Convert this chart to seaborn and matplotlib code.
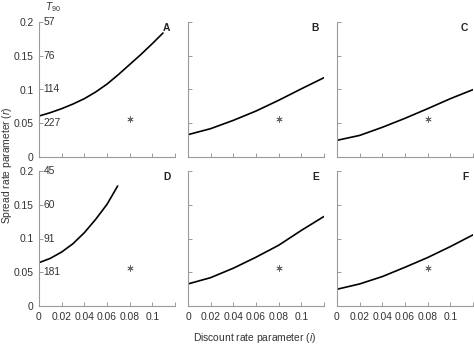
import matplotlib
matplotlib.use("Agg")
import matplotlib.pyplot as plt
import seaborn as sns
import pandas as pd

# ---- data ----
panels = ["A", "B", "C", "D", "E", "F"]

x_A = [0, 0.01, 0.02, 0.03, 0.04, 0.05, 0.06, 0.07, 0.08, 0.09, 0.10, 0.1094]
r_A = [0.0607, 0.0657, 0.0716, 0.0785, 0.0864, 0.0963, 0.108, 0.122, 0.137, 0.152, 0.168, 0.1837]

x_B = [0, 0.02, 0.04, 0.06, 0.08, 0.10, 0.12]
r_B = [0.0331, 0.042, 0.0543, 0.0681, 0.084, 0.101, 0.1175]

x_C = [0, 0.02, 0.04, 0.06, 0.08, 0.10, 0.12]
r_C = [0.0247, 0.032, 0.044, 0.0573, 0.0716, 0.0864, 0.0998]

x_D = [0, 0.01, 0.02, 0.03, 0.04, 0.05, 0.06, 0.0694]
r_D = [0.0642, 0.0706, 0.080, 0.0923, 0.1086, 0.1284, 0.1506, 0.1778]

x_E = [0, 0.02, 0.04, 0.06, 0.08, 0.10, 0.12]
r_E = [0.0327, 0.042, 0.056, 0.0723, 0.090, 0.112, 0.1327]

x_F = [0, 0.02, 0.04, 0.06, 0.08, 0.10, 0.12]
r_F = [0.0248, 0.0327, 0.0436, 0.0574, 0.0718, 0.088, 0.1054]

star_x = [0.08, 0.08, 0.08, 0.08, 0.08, 0.08]
star_r = [0.056, 0.056, 0.056, 0.056, 0.056, 0.056]

y_ticks = [0, 0.05, 0.1, 0.15, 0.2]
y_ticklabels = ["0", "0.05", "0.1", "0.15", "0.2"]
x_ticks = [0, 0.02, 0.04, 0.06, 0.08, 0.10, 0.12]
x_ticklabels = ["0", "0.02", "0.04", "0.06", "0.08", "0.1", ""]

t90_top_vals = [0.2, 0.15, 0.1, 0.05]
t90_top_labels = ["57", "76", "114", "227"]
t90_bot_labels = ["45", "60", "91", "181"]

curves = {"A": (x_A, r_A), "B": (x_B, r_B), "C": (x_C, r_C),
          "D": (x_D, r_D), "E": (x_E, r_E), "F": (x_F, r_F)}

# ---- style ----
sns.set_style("ticks")
plt.rcParams["font.family"] = ["Liberation Sans", "DejaVu Sans"]
plt.rcParams["mathtext.fontset"] = "custom"
plt.rcParams["mathtext.rm"] = "Liberation Sans"
plt.rcParams["mathtext.it"] = "Liberation Sans:italic"
FS = 7.4
SPINE = "#9a9a9a"
TXT = "#333333"

fig = plt.figure(figsize=(4.74, 3.47), dpi=100)
W, H = 474.0, 347.0
col_x = [39, 188, 337]
row_top = [22, 171]
aw, ah = 136, 135

for i, name in enumerate(panels):
    row, col = divmod(i, 3)
    left = col_x[col] / W
    bottom = 1 - (row_top[row] + ah) / H
    ax = fig.add_axes([left, bottom, aw / W, ah / H])
    xs, rs = curves[name]
    df = pd.DataFrame({"i": xs, "r": rs})
    sns.lineplot(data=df, x="i", y="r", ax=ax, color="black", linewidth=1.2,
                 sort=False, estimator=None)
    sdf = pd.DataFrame({"i": [star_x[i]], "r": [star_r[i]]})
    sns.scatterplot(data=sdf, x="i", y="r", ax=ax, marker=(6, 2, 0), s=16,
                    color="#666666", linewidth=0.6, edgecolor="#666666")
    ax.set_xlim(0, 0.12)
    ax.set_ylim(0, 0.2)
    ax.set_xlabel("")
    ax.set_ylabel("")
    for s in ["top", "right"]:
        ax.spines[s].set_visible(False)
    for s in ["left", "bottom"]:
        ax.spines[s].set_color(SPINE)
        ax.spines[s].set_linewidth(0.8)
    ax.set_yticks(y_ticks)
    ax.set_xticks(x_ticks)
    ax.tick_params(direction="in", length=3, width=0.7, color=SPINE,
                   labelsize=FS, labelcolor=TXT)
    ax.tick_params(axis="y", pad=4)
    ax.tick_params(axis="x", pad=4)
    if col == 0:
        ax.set_yticklabels(y_ticklabels)
        labs = t90_top_labels if row == 0 else t90_bot_labels
        for v, lab in zip(t90_top_vals, labs):
            ax.text(0.035, v, lab, transform=ax.get_yaxis_transform(),
                    ha="left", va="center", fontsize=FS, color=TXT)
    else:
        ax.set_yticklabels([])
    if row == 1:
        ax.set_xticklabels(x_ticklabels)
    else:
        ax.set_xticklabels([])
    ax.text(0.965, 0.955, name, transform=ax.transAxes, ha="right",
            va="center", fontsize=FS, fontweight="bold", color="#222222")
    if name == "A":
        ax.text(0.1, 1.11, r"$T_{90}$", transform=ax.transAxes, ha="center",
                va="center", fontsize=FS, color=TXT)

fig.text(7 / W, 1 - 165 / H, "Spread rate parameter ($r$)", rotation=90,
         ha="center", va="center", fontsize=FS, color=TXT)
fig.text(255 / W, 1 - 338 / H, "Discount rate parameter ($i$)",
         ha="center", va="center", fontsize=FS, color=TXT)

fig.savefig("out.png", dpi=100)
